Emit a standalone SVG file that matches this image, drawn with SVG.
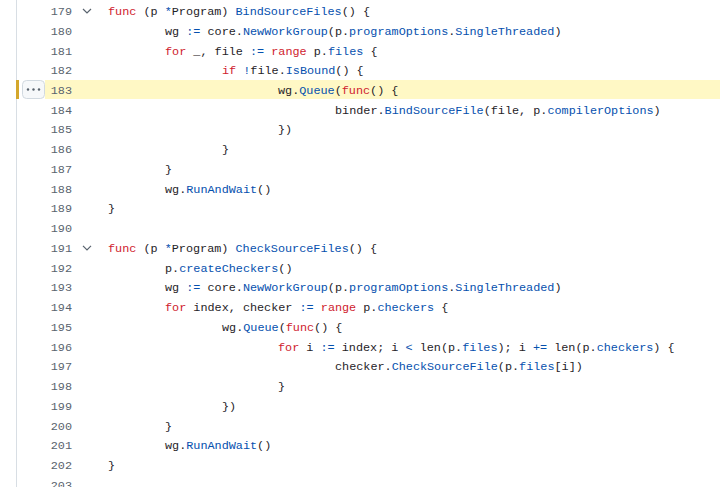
<svg xmlns="http://www.w3.org/2000/svg" width="720" height="487" viewBox="0 0 720 487">
<style>
text{font-family:"Liberation Mono","DejaVu Sans Mono",monospace;font-size:11.8px;fill:#1f2328;white-space:pre}
.n{fill:#59636e;text-anchor:end}
.k{fill:#cf222e}
.b{fill:#0550ae}
.c{fill:none;stroke:#59636e;stroke-width:1.2}
</style>
<rect width="720" height="487" fill="#fff"/>
<line x1="16.5" y1="0" x2="16.5" y2="487" stroke="#d8dee4"/>
<rect x="45" y="80" width="675" height="19" fill="#fff8c5"/>
<rect x="16" y="80" width="3" height="19" fill="#d4a72c"/>
<g id="expand"><rect x="22.5" y="80.5" width="22" height="18" rx="4" fill="#f6f8fa" stroke="#d1d9e0"/>
<circle cx="28" cy="89.5" r="1.2" fill="#59636e"/><circle cx="33.5" cy="89.5" r="1.2" fill="#59636e"/><circle cx="39" cy="89.5" r="1.2" fill="#59636e"/></g>
<g id="chevrons"><path class="c" d="M83 9l4 4 4-4"/><path class="c" d="M83 245.9l4 4 4-4"/></g>
<g id="numbers">
<text class="n" x="72" y="15">179</text><text class="n" x="72" y="34.7">180</text><text class="n" x="72" y="54.5">181</text><text class="n" x="72" y="74.2">182</text><text class="n" x="72" y="94">183</text><text class="n" x="72" y="113.7">184</text><text class="n" x="72" y="133.4">185</text><text class="n" x="72" y="153.2">186</text><text class="n" x="72" y="172.9">187</text><text class="n" x="72" y="192.7">188</text><text class="n" x="72" y="212.4">189</text><text class="n" x="72" y="232.1">190</text><text class="n" x="72" y="251.9">191</text><text class="n" x="72" y="271.6">192</text><text class="n" x="72" y="291.4">193</text><text class="n" x="72" y="311.1">194</text><text class="n" x="72" y="330.8">195</text><text class="n" x="72" y="350.6">196</text><text class="n" x="72" y="370.3">197</text><text class="n" x="72" y="390.1">198</text><text class="n" x="72" y="409.8">199</text><text class="n" x="72" y="429.5">200</text><text class="n" x="72" y="449.3">201</text><text class="n" x="72" y="469">202</text><text class="n" x="72" y="488.8">203</text>
</g>
<g id="code">
<text x="108" y="15"><tspan class="k">func</tspan> (p <tspan class="b">*</tspan>Program) <tspan class="b">BindSourceFiles</tspan>() {</text>
<text x="165" y="34.7">wg <tspan class="b">:=</tspan> core.<tspan class="b">NewWorkGroup</tspan>(p.<tspan class="b">programOptions</tspan>.<tspan class="b">SingleThreaded</tspan>)</text>
<text x="165" y="54.5"><tspan class="k">for</tspan> _, file <tspan class="b">:=</tspan> <tspan class="k">range</tspan> p.<tspan class="b">files</tspan> {</text>
<text x="222" y="74.2"><tspan class="k">if</tspan> <tspan class="b">!</tspan>file.<tspan class="b">IsBound</tspan>() {</text>
<text x="278" y="94">wg.<tspan class="b">Queue</tspan>(<tspan class="k">func</tspan>() {</text>
<text x="335" y="113.7">binder.<tspan class="b">BindSourceFile</tspan>(file, p.<tspan class="b">compilerOptions</tspan>)</text>
<text x="278" y="133.4">})</text>
<text x="222" y="153.2">}</text>
<text x="165" y="172.9">}</text>
<text x="165" y="192.7">wg.<tspan class="b">RunAndWait</tspan>()</text>
<text x="108" y="212.4">}</text>
<text x="108" y="251.9"><tspan class="k">func</tspan> (p <tspan class="b">*</tspan>Program) <tspan class="b">CheckSourceFiles</tspan>() {</text>
<text x="165" y="271.6">p.<tspan class="b">createCheckers</tspan>()</text>
<text x="165" y="291.4">wg <tspan class="b">:=</tspan> core.<tspan class="b">NewWorkGroup</tspan>(p.<tspan class="b">programOptions</tspan>.<tspan class="b">SingleThreaded</tspan>)</text>
<text x="165" y="311.1"><tspan class="k">for</tspan> index, checker <tspan class="b">:=</tspan> <tspan class="k">range</tspan> p.<tspan class="b">checkers</tspan> {</text>
<text x="222" y="330.8">wg.<tspan class="b">Queue</tspan>(<tspan class="k">func</tspan>() {</text>
<text x="278" y="350.6"><tspan class="k">for</tspan> i <tspan class="b">:=</tspan> index; i <tspan class="b">&lt;</tspan> len(p.<tspan class="b">files</tspan>); i <tspan class="b">+=</tspan> len(p.<tspan class="b">checkers</tspan>) {</text>
<text x="335" y="370.3">checker.<tspan class="b">CheckSourceFile</tspan>(p.<tspan class="b">files</tspan>[i])</text>
<text x="278" y="390.1">}</text>
<text x="222" y="409.8">})</text>
<text x="165" y="429.5">}</text>
<text x="165" y="449.3">wg.<tspan class="b">RunAndWait</tspan>()</text>
<text x="108" y="469">}</text>
</g>
</svg>
